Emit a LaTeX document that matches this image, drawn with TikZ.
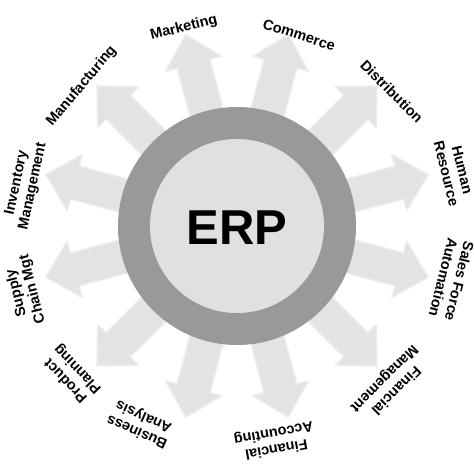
\documentclass[tikz,border=0pt]{standalone}
\usepackage{fontspec}
\setmainfont{Liberation Sans}
\usetikzlibrary{calc}

\tikzset{
  spoke/.style={fill=black!11, draw=black!7, line width=1.5pt, line join=round},
  ringcol/.style={fill=black!40},
  diskcol/.style={fill=black!12},
  lbl/.style={font=\bfseries\fontsize{14.5}{16.5}\selectfont, align=center, inner sep=0pt}
}

\begin{document}
\begin{tikzpicture}[x=1pt,y=1pt]
			\useasboundingbox (-237,-248) rectangle (237,226);
			\coordinate (O) at (0,0);
			% spokes
			\foreach \a in {15,45,...,345}{
				\fill[spoke, rotate=\a] (95,-17) -- (168,-17) -- (168,-29) -- (198,0)
					-- (168,29) -- (168,17) -- (95,17) -- cycle;
			}
			% hub
			\fill[ringcol] (O) circle (119);
			\fill[diskcol] (O) circle (87);
			\node (erp) at (0,-2) {\bfseries\fontsize{49}{49}\selectfont ERP};
			% labels
			\node[lbl, rotate=14]   (mkt) at (105:205) {Marketing};
			\node[lbl, rotate=-18]  (com) at (72:201)  {Commerce};
			\node[lbl, rotate=-45]  (dis) at (41:205)  {Distribution};
			\node[lbl, rotate=-76]  (hr)  at (14:224)  {Human\\Resource};
			\node[lbl, rotate=-104] (sfa) at (346:221) {Sales Force\\Automation};
			\node[lbl, rotate=-135] (fm)  at (314:220) {Financial\\Management};
			\node[lbl, rotate=-170] (fa)  at (280:218) {Financial\\Accounting};
			\node[lbl, rotate=156]  (ba)  at (244:220) {Business\\Analysis};
			\node[lbl, rotate=134]  (pp)  at (222:222) {Product\\Planning};
			\node[lbl, rotate=104]  (scm) at (197:222) {Supply\\Chain Mgt};
			\node[lbl, rotate=78]   (inv) at (169:216) {Inventory\\Management};
			\node[lbl, rotate=50]   (man) at (138:209) {Manufacturing};
		\end{tikzpicture}
\end{document}
